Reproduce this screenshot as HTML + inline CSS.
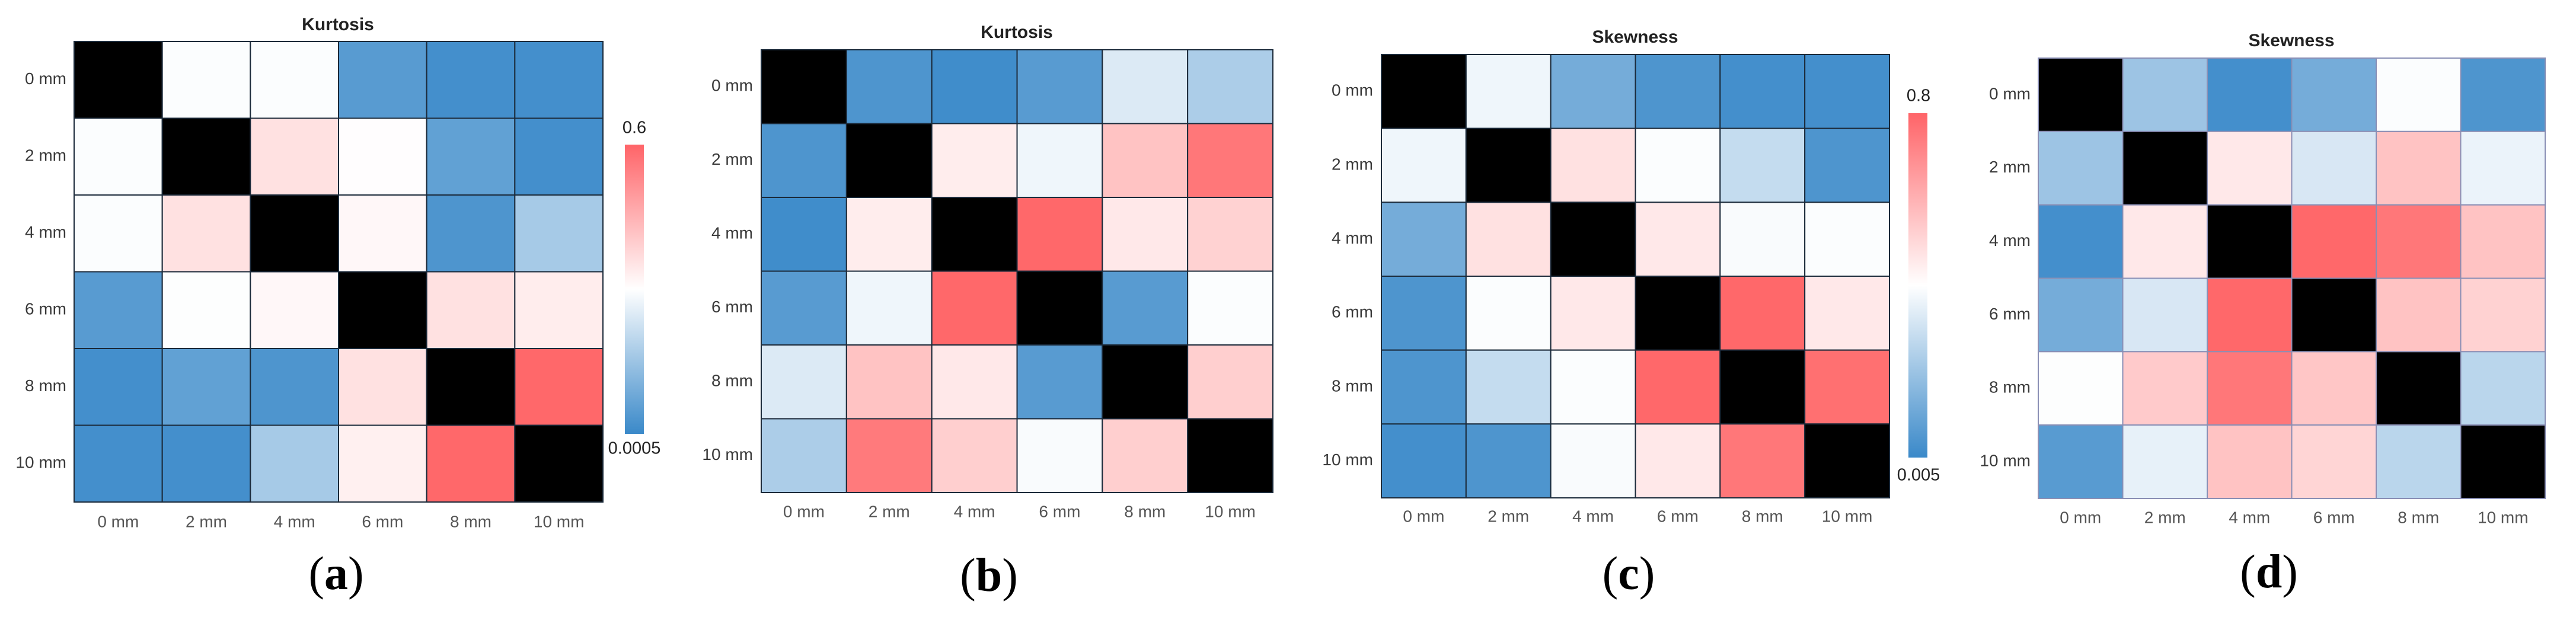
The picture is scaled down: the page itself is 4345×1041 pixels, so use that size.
<!DOCTYPE html>
<html><head><meta charset="utf-8"><style>
html,body{margin:0;padding:0;background:#fff;}
svg{display:block;}
.tick{font-family:"Liberation Sans",sans-serif;font-size:28px;fill:#3a3a3a;}
.xt{fill:#555;}
.title{font-family:"Liberation Sans",sans-serif;font-size:30px;font-weight:bold;fill:#222;}
.letter{font-family:"Liberation Serif",serif;font-size:80px;fill:#000;}
.cb{font-family:"Liberation Sans",sans-serif;font-size:29px;fill:#222;}
</style></head><body>
<svg id="fig" width="4345" height="1041" viewBox="0 0 4345 1041" xmlns="http://www.w3.org/2000/svg">
<defs>
<linearGradient id="cbg" x1="0" y1="1" x2="0" y2="0">
<stop offset="0" stop-color="rgb(58,137,201)"/>
<stop offset="0.5" stop-color="#ffffff"/>
<stop offset="1" stop-color="rgb(255,100,104)"/>
</linearGradient>
</defs>
</svg>
<script>
const categories = ["0 mm","2 mm","4 mm","6 mm","8 mm","10 mm"];
const titles = ["Kurtosis","Kurtosis","Skewness","Skewness"];
const letters = ["a","b","c","d"];
const colorbarLabels = [["0.6","0.0005"],null,["0.8","0.005"],null];
// normalized values: -1 = min (blue), 0 = mid (white), 1 = max (red); null = diagonal
const valuesA = [
 [null,-0.02,-0.02,-0.85,-0.95,-0.95],
 [-0.02,null,0.2,0.01,-0.8,-0.95],
 [-0.02,0.2,null,0.05,-0.9,-0.45],
 [-0.85,-0.01,0.05,null,0.2,0.12],
 [-0.95,-0.8,-0.9,0.2,null,1.0],
 [-0.95,-0.95,-0.45,0.1,1.0,null]];
const valuesB = [
 [null,-0.9,-0.97,-0.85,-0.18,-0.42],
 [-0.9,null,0.12,-0.08,0.4,0.9],
 [-0.97,0.12,null,1.0,0.15,0.3],
 [-0.85,-0.08,1.0,null,-0.85,-0.02],
 [-0.18,0.4,0.15,-0.85,null,0.32],
 [-0.42,0.88,0.32,-0.03,0.32,null]];
const valuesC = [
 [null,-0.08,-0.7,-0.9,-0.95,-0.95],
 [-0.08,null,0.2,-0.02,-0.3,-0.9],
 [-0.7,0.2,null,0.15,-0.03,-0.02],
 [-0.9,-0.02,0.15,null,1.0,0.15],
 [-0.9,-0.3,-0.02,1.0,null,0.95],
 [-0.95,-0.9,-0.03,0.15,0.9,null]];
const valuesD = [
 [null,-0.5,-0.95,-0.7,-0.02,-0.9],
 [-0.5,null,0.15,-0.2,0.4,-0.1],
 [-0.95,0.15,null,1.0,0.9,0.4],
 [-0.7,-0.2,1.0,null,0.4,0.3],
 [-0.01,0.35,0.9,0.38,null,-0.35],
 [-0.85,-0.12,0.4,0.28,-0.35,null]];
const allValues = [valuesA,valuesB,valuesC,valuesD];

const layouts = [
 {x0:125,x1:1017,y0:70,y1:847,ty:43,tx:570,yl:112,xl:882,lx:567,ly:976,stroke:"#1b2a3a",cb:{x:1054,w:32,y0:244,y1:732,tx:1070,ty0:217,ty1:758}},
 {x0:1284,x1:2147,y0:84,y1:831,ty:56,tx:1715,yl:1270,xl:865,lx:1668,ly:979,stroke:"#1b2a3a"},
 {x0:2330,x1:3187,y0:92,y1:840,ty:64,tx:2758,yl:2316,xl:873,lx:2747,ly:976,stroke:"#1b2a3a",cb:{x:3219,w:32,y0:191,y1:772,tx:3236,ty0:163,ty1:803}},
 {x0:3438,x1:4293,y0:98,y1:841,ty:70,tx:3865,yl:3425,xl:875,lx:3827,ly:973,stroke:"#8a8fb5"}
];
const NS="http://www.w3.org/2000/svg";
const svg=document.getElementById("fig");
function mk(tag,attrs,parent){const e=document.createElementNS(NS,tag);for(const k in attrs)e.setAttribute(k,attrs[k]);(parent||svg).appendChild(e);return e;}
function colorFor(v){
  if(v===null) return "#000";
  const blue=[58,137,201], red=[255,104,106], w=[255,255,255];
  const t=Math.min(1,Math.abs(v)); const c=v<0?blue:red;
  return "rgb("+w.map((a,i)=>Math.round(a+(c[i]-a)*t)).join(",")+")";
}
layouts.forEach((L,p)=>{
  const vals=allValues[p];
  const g=mk("g",{});
  
  
  const n=categories.length;
  const xs=i=>L.x0+(L.x1-L.x0)*i/n;
  const ys=i=>L.y0+(L.y1-L.y0)*i/n;
  for(let r=0;r<n;r++)for(let c=0;c<n;c++){
    const rect=mk("rect",{x:xs(c),y:ys(r),width:xs(c+1)-xs(c),height:ys(r+1)-ys(r),fill:colorFor(vals[r][c]),stroke:L.stroke,"stroke-width":2},g);
    
    
  }
  const t=mk("text",{x:L.tx,y:L.ty,"text-anchor":"middle","dominant-baseline":"middle",class:"title"},g);
  t.textContent=titles[p];
  
  
  categories.forEach((lab,i)=>{
    const yt=mk("text",{x:L.yl,y:(ys(i)+ys(i+1))/2,"text-anchor":"end","dominant-baseline":"middle",class:"tick"},g);
    yt.textContent=lab;
    
    
    const xt=mk("text",{x:(xs(i)+xs(i+1))/2,y:L.xl,"text-anchor":"middle","dominant-baseline":"middle",class:"tick xt"},g);
    xt.textContent=lab;
    
    
  });
  const lt=mk("text",{x:L.lx,y:L.ly,"text-anchor":"middle","dominant-baseline":"middle",class:"letter"},g);
  lt.innerHTML='(<tspan font-weight="bold">'+letters[p]+'</tspan>)';
  
  
  if(L.cb){
    const cb=mk("rect",{x:L.cb.x,y:L.cb.y0,width:L.cb.w,height:L.cb.y1-L.cb.y0,fill:"url(#cbg)"},g);
    
    
    const a=mk("text",{x:L.cb.tx,y:L.cb.ty0,"text-anchor":"middle","dominant-baseline":"middle",class:"cb"},g);
    a.textContent=colorbarLabels[p][0];
    
    
    const b=mk("text",{x:L.cb.tx,y:L.cb.ty1,"text-anchor":"middle","dominant-baseline":"middle",class:"cb"},g);
    b.textContent=colorbarLabels[p][1];
    
    
  }
});
</script>
</body></html>
